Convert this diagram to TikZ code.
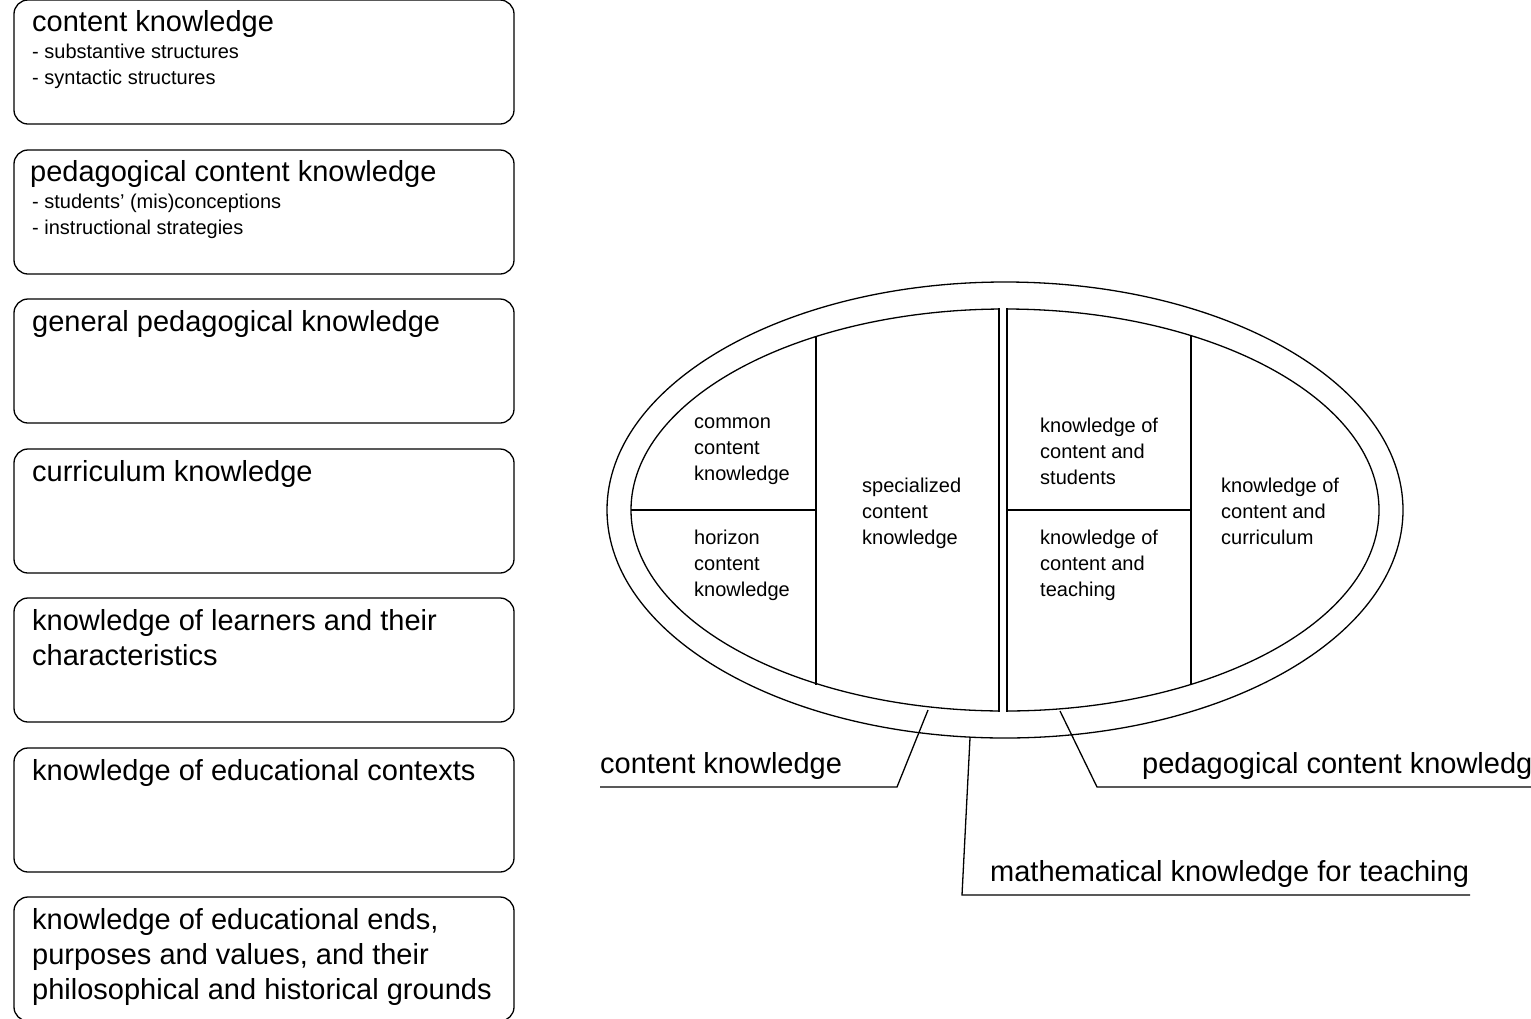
\documentclass[tikz,border=0pt]{standalone}
\usepackage{fontspec}
\setmainfont{Liberation Sans}
\begin{document}
\begin{tikzpicture}[x=1pt,y=-1pt,
  kbox/.style={draw,line width=1.3pt,rounded corners=14pt},
  ttl/.style={anchor=north west,font=\fontsize{29}{35}\selectfont,align=left,inner sep=0},
  sub/.style={anchor=north west,font=\fontsize{20}{26}\selectfont,align=left,inner sep=0},
  itxt/.style={anchor=north west,font=\fontsize{20}{26}\selectfont,align=left,inner sep=0},
  lbl/.style={anchor=south west,font=\fontsize{29}{32}\selectfont,inner sep=0},
  ln/.style={line width=1.3pt}]
\useasboundingbox (0,0) rectangle (1531,1018);
% left boxes
\foreach \y/\n in {0/b1,150/b2,299/b3,449/b4,598/b5,748/b6,897/b7}
  \draw[kbox] (14,\y) rectangle (514,\y+124);
\node[ttl] (t1) at (32,10) {content knowledge};
\node[sub] (s1) at (32,44) {- substantive structures\\- syntactic structures};
\node[ttl] (t2) at (30,160) {pedagogical content knowledge};
\node[sub] (s2) at (32,194) {- students' (mis)conceptions\\- instructional strategies};
\node[ttl] (t3) at (32,310) {general pedagogical knowledge};
\node[ttl] (t4) at (32,460) {curriculum knowledge};
\node[ttl] (t5) at (32,609) {knowledge of learners and their\\characteristics};
\node[ttl] (t6) at (32,759) {knowledge of educational contexts};
\node[ttl] (t7) at (32,908) {knowledge of educational ends,\\purposes and values, and their\\philosophical and historical grounds};
% ellipse
\draw[ln] (1005,510) ellipse [x radius=398,y radius=228];
\draw[ln] (1005,510) ellipse [x radius=374,y radius=201];
\fill[white] (999.6,300) rectangle (1006.4,720);
\draw[ln] (999,308) -- (999,712);
\draw[ln] (1007,308) -- (1007,712);
\draw[ln] (816,336) -- (816,685);
\draw[ln] (1191,336) -- (1191,685);
\draw[ln] (631,510) -- (816,510);
\draw[ln] (1007,510) -- (1191,510);
\node[itxt] (e1) at (694,418) {common\\content\\knowledge};
\node[itxt] (e2) at (694,530) {horizon\\content\\knowledge};
\node[itxt] (e3) at (862,478) {specialized\\content\\knowledge};
\node[itxt] (e4) at (1040,418) {knowledge of\\content and\\students};
\node[itxt] (e5) at (1040,530) {knowledge of\\content and\\teaching};
\node[itxt] (e6) at (1221,478) {knowledge of\\content and\\curriculum};
% leaders
\coordinate (c1) at (928,710);
\coordinate (c2) at (1060,711);
\coordinate (c3) at (970,738);
\node[lbl] (l1) at (600,780) {content knowledge};
\node[lbl] (l2) at (1142,780) {pedagogical content knowledge};
\node[lbl] (l3) at (990,888) {mathematical knowledge for teaching};
\draw[ln] (600,787) -- (897,787) -- (c1);
\draw[ln] (1531,787) -- (1097,787) -- (c2);
\draw[ln] (1470,895) -- (962,895) -- (c3);
\end{tikzpicture}
\end{document}
